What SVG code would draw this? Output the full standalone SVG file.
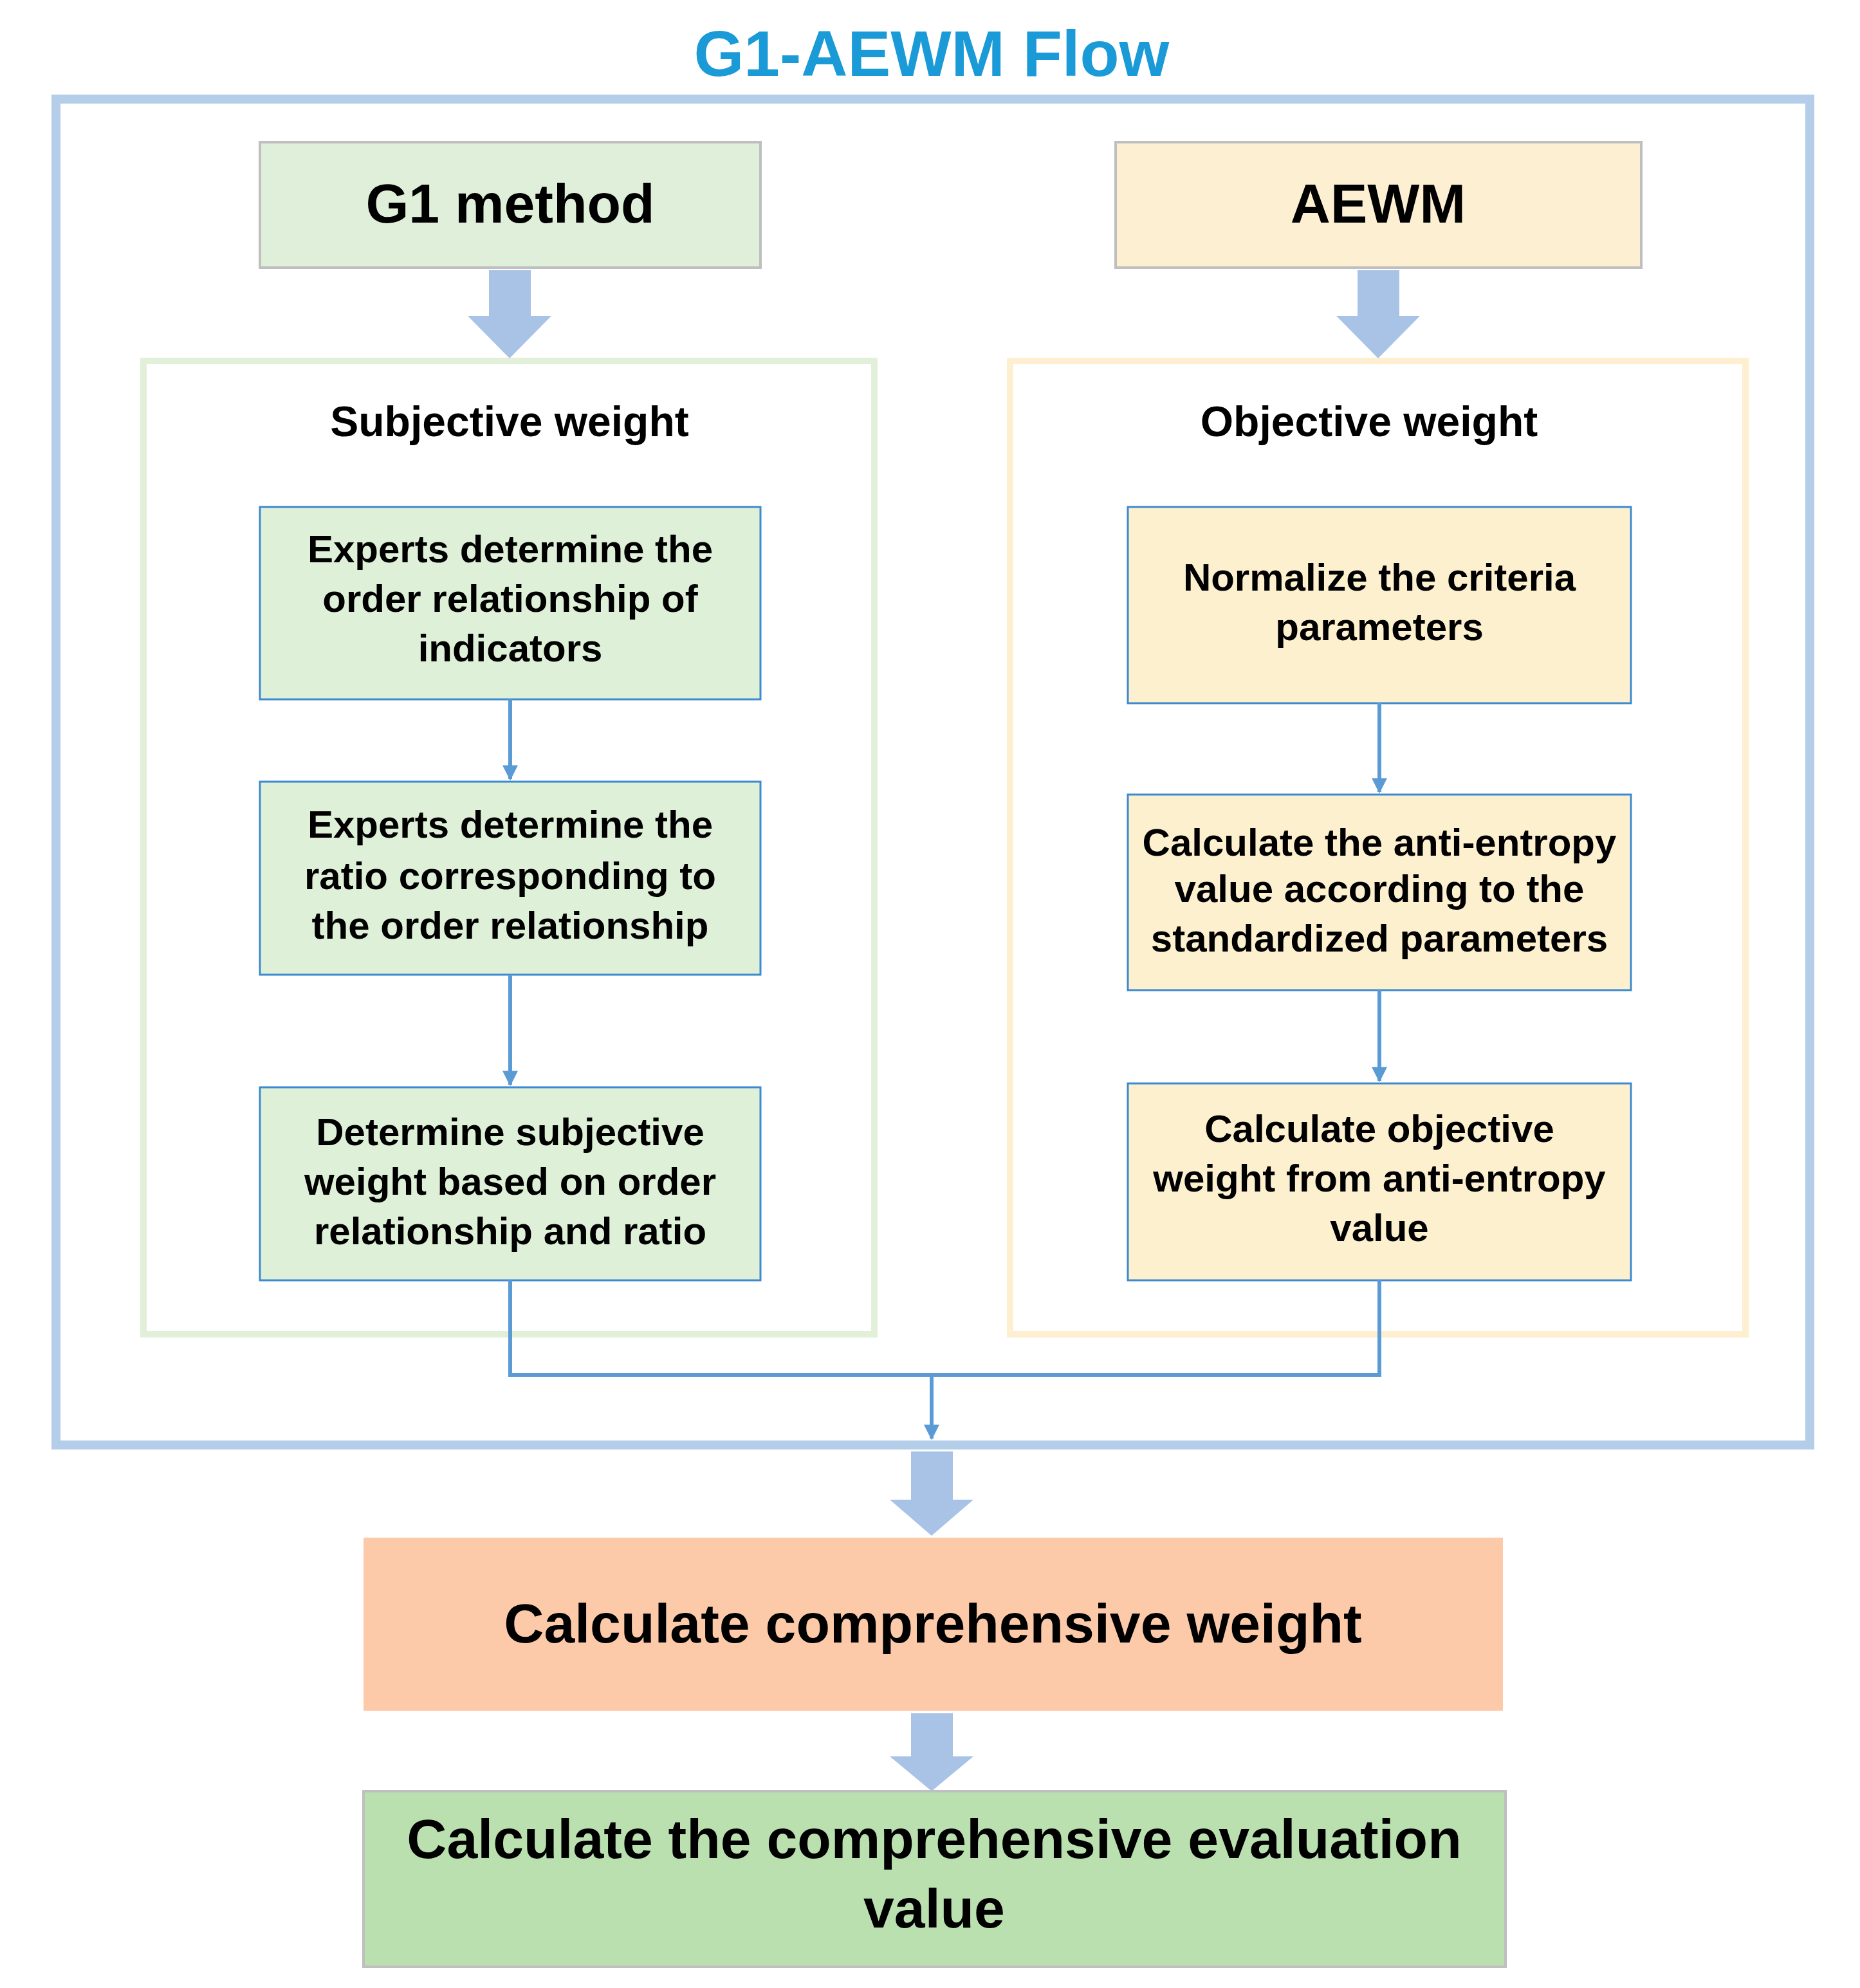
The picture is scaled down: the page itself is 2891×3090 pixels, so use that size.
<svg xmlns="http://www.w3.org/2000/svg" width="2891" height="3090" viewBox="0 0 2891 3090">
<style>
text{font-family:"Liberation Sans",Arial,sans-serif;font-weight:bold;text-anchor:middle;fill:#000}
.sm{font-size:60px}
.hd{font-size:66px}
.big{font-size:86px}
.lb{fill:#dff0d8;stroke:#3d8ad0;stroke-width:3}
.rb{fill:#fdf0cf;stroke:#3d8ad0;stroke-width:3}
.con{fill:none;stroke:#5b9bd5;stroke-width:6}
.fat{fill:#a9c3e6}
</style>
<defs>
<marker id="ah" viewBox="0 0 10 10" refX="9" refY="5" markerWidth="4" markerHeight="4" orient="auto"><path d="M0,0L10,5L0,10z" fill="#5b9bd5"/></marker>
</defs>
<rect width="2891" height="3090" fill="#fff"/>
<text x="1448" y="118" style="font-size:100px;fill:#1a9ad6">G1-AEWM Flow</text>
<g id="frame"><rect x="87" y="154" width="2726" height="2092" fill="none" stroke="#b4cde9" stroke-width="14"/></g>
<g id="g1"><rect x="404" y="221" width="778" height="195" fill="#e0efd9" stroke="#bfbfbf" stroke-width="4"/><text class="big" x="793" y="346">G1 method</text></g>
<g id="aewm"><rect x="1734" y="221" width="817" height="195" fill="#fdf0d2" stroke="#bfbfbf" stroke-width="4"/><text class="big" x="2142" y="346">AEWM</text></g>
<g id="subj"><rect x="223" y="561" width="1136" height="1513" fill="none" stroke="#e2efd9" stroke-width="10"/><text class="hd" x="792" y="678">Subjective weight</text></g>
<g id="obj"><rect x="1570" y="561" width="1143" height="1513" fill="none" stroke="#fdefcf" stroke-width="10"/><text class="hd" x="2128" y="678">Objective weight</text></g>
<g id="l1"><rect class="lb" x="404" y="788" width="778" height="299"/><text class="sm" x="793" y="874">Experts determine the</text><text class="sm" x="793" y="951">order relationship of</text><text class="sm" x="793" y="1028">indicators</text></g>
<g id="l2"><rect class="lb" x="404" y="1215" width="778" height="300"/><text class="sm" x="793" y="1302">Experts determine the</text><text class="sm" x="793" y="1382">ratio corresponding to</text><text class="sm" x="793" y="1459">the order relationship</text></g>
<g id="l3"><rect class="lb" x="404" y="1690" width="778" height="300"/><text class="sm" x="793" y="1780">Determine subjective</text><text class="sm" x="793" y="1857">weight based on order</text><text class="sm" x="793" y="1934">relationship and ratio</text></g>
<g id="r1"><rect class="rb" x="1753" y="788" width="782" height="305"/><text class="sm" x="2144" y="918">Normalize the criteria</text><text class="sm" x="2144" y="995">parameters</text></g>
<g id="r2"><rect class="rb" x="1753" y="1235" width="782" height="304"/><text class="sm" x="2144" y="1330">Calculate the anti-entropy</text><text class="sm" x="2144" y="1402">value according to the</text><text class="sm" x="2144" y="1479">standardized parameters</text></g>
<g id="r3"><rect class="rb" x="1753" y="1684" width="782" height="306"/><text class="sm" x="2144" y="1775">Calculate objective</text><text class="sm" x="2144" y="1852">weight from anti-entropy</text><text class="sm" x="2144" y="1929">value</text></g>
<g id="comp"><rect x="565" y="2390" width="1771" height="269" fill="#fdcaa9"/><text class="big" x="1450" y="2553">Calculate comprehensive weight</text></g>
<g id="eval"><rect x="565" y="2784" width="1775" height="273" fill="#bbe0b0" stroke="#bfbfbf" stroke-width="4"/><text class="big" x="1452" y="2888">Calculate the comprehensive evaluation</text><text class="big" x="1452" y="2996">value</text></g>
<g id="connectors">
<path class="fat" d="M760,420h65v71h32l-65,66l-65,-66h33z"/>
<path class="fat" d="M2110,420h65v71h32l-65,66l-65,-66h33z"/>
<path class="fat" d="M1416,2256h65v75h32l-65,56l-65,-56h33z"/>
<path class="fat" d="M1416,2663h65v67h32l-65,54l-65,-54h33z"/>
<path class="con" d="M793,1087V1211" marker-end="url(#ah)"/>
<path class="con" d="M793,1515V1686" marker-end="url(#ah)"/>
<path class="con" d="M2144,1093V1231" marker-end="url(#ah)"/>
<path class="con" d="M2144,1539V1680" marker-end="url(#ah)"/>
<path class="con" d="M793,1990V2137H2144V1990"/>
<path class="con" d="M1448,2137V2236" marker-end="url(#ah)"/>
</g>
</svg>
